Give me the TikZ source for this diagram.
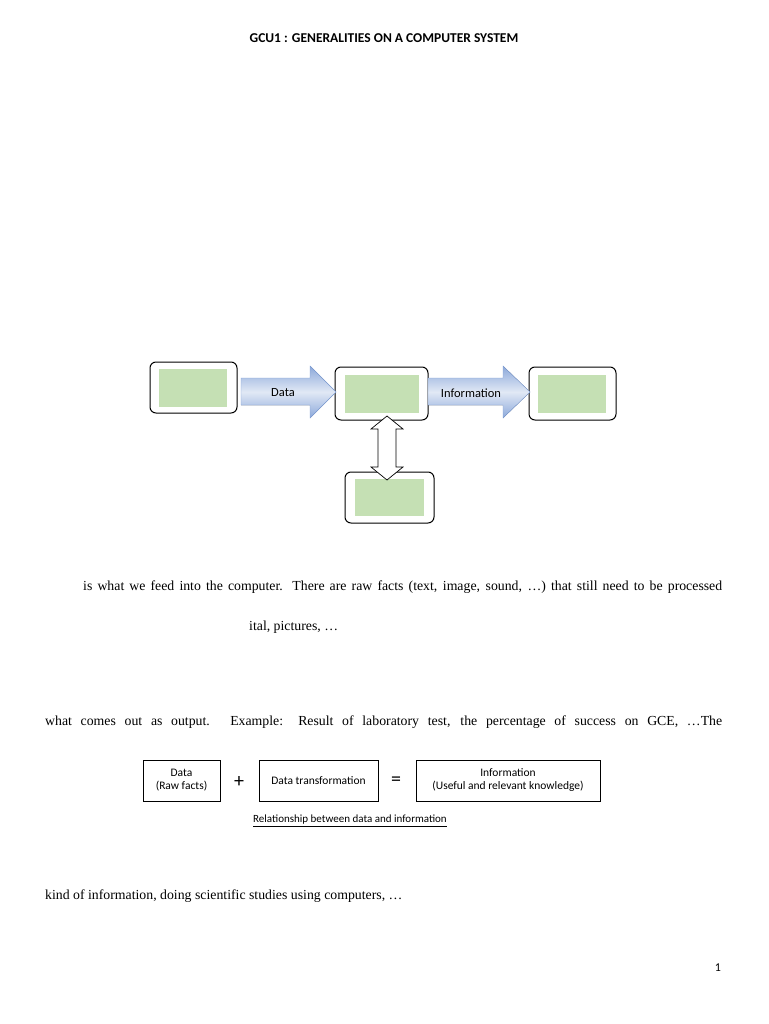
\documentclass[tikz,border=0pt]{standalone}
\usepackage{fontspec}
\setmainfont{Liberation Serif}
\newfontfamily\calib{Carlito}
\usetikzlibrary{shapes.arrows}
\definecolor{gfill}{HTML}{C5E0B4}
\definecolor{arrA}{HTML}{B4C7E7}
\definecolor{arrB}{HTML}{7F9FD6}
\tikzset{
 obox/.style={draw=black,line width=1pt,rounded corners=6pt,inner sep=0pt},
 gbox/.style={fill=gfill,draw=none,inner sep=0pt},
 sqbox/.style={draw=black,line width=0.6pt,inner sep=0pt,font=\calib\fontsize{11.5}{13}\selectfont,align=center},
 body/.style={font=\fontsize{13.8}{16}\selectfont,anchor=west,inner sep=0pt},
 lbl/.style={font=\calib\fontsize{12.5}{14}\selectfont},
}
\begin{document}
\begin{tikzpicture}[x=1pt,y=-1pt]
\useasboundingbox (0,0) rectangle (768,1024);
\node[font=\calib\bfseries\fontsize{13.5}{15}\selectfont] (title) at (384,38) {GCU1 : GENERALITIES ON A COMPUTER SYSTEM};
% boxes
\node[obox,minimum width=87pt,minimum height=51pt] (b1) at (193.5,387.5) {};
\node[gbox,minimum width=68pt,minimum height=38pt] (g1) at (193,388) {};
\node[obox,minimum width=93pt,minimum height=53pt] (b2) at (381.5,393.5) {};
\node[gbox,minimum width=74pt,minimum height=38pt] (g2) at (382,394) {};
\node[obox,minimum width=87pt,minimum height=53pt] (b3) at (572.5,393.5) {};
\node[gbox,minimum width=68pt,minimum height=38pt] (g3) at (572,394) {};
\node[obox,minimum width=89pt,minimum height=51pt] (b4) at (389.5,497.5) {};
\node[gbox,minimum width=69pt,minimum height=37pt] (g4) at (389.5,497.5) {};
% big arrows
\fill[top color=arrB!90,bottom color=arrB!90,middle color=arrA!40,draw=arrB,line width=0.4pt]
 (241,378) -- (310,378) -- (310,366) -- (336,392) -- (310,418) -- (310,405) -- (241,405) -- cycle;
\node[lbl] (l1) at (283,393) {Data};
\fill[top color=arrB!90,bottom color=arrB!90,middle color=arrA!40,draw=arrB,line width=0.4pt]
 (428,378) -- (503,378) -- (503,366) -- (530,392) -- (503,418) -- (503,405) -- (428,405) -- cycle;
\node[lbl] (l2) at (471,393) {Information};
% double arrow
\draw[fill=white,line width=0.7pt]
 (387,416) -- (403,429) -- (396,429) -- (396,467) -- (403,467) -- (387,480) -- (371,467) -- (378,467) -- (378,429) -- (371,429) -- cycle;
% body text
\node[body] (t1) at (83,587) {\makebox[639pt][s]{is what we feed into the computer. There are raw facts (text, image, sound, …) that still need to be processed}};
\node[body] (t2) at (249,627) {ital, pictures, …};
\node[body] (t3) at (45,722) {\makebox[677pt][s]{what comes out as output. Example: Result of laboratory test, the percentage of success on GCE, …The}};
\node[body] (t4) at (45,896) {kind of information, doing scientific studies using computers, …};
% equation boxes
\node[sqbox,minimum width=77pt,minimum height=41pt] (da) at (181.5,780.5) {Data\\(Raw facts)};
\node[font=\calib\fontsize{20}{20}\selectfont] (plus) at (239,782) {+};
\node[sqbox,minimum width=119pt,minimum height=41pt] (dt) at (318.5,780.5) {\raisebox{-3pt}{Data transformation}};
\node[font=\calib\fontsize{20}{20}\selectfont] (eq) at (396,781) {=};
\node[sqbox,minimum width=184pt,minimum height=41pt] (inf) at (508,780.5) {Information\\(Useful and relevant knowledge)};
\node[font=\calib\fontsize{11}{13}\selectfont] (cap) at (350,821) {\underline{Relationship between data and information}};
\node[font=\calib\fontsize{12}{14}\selectfont] (pg) at (718,968) {1};
\end{tikzpicture}
\end{document}
